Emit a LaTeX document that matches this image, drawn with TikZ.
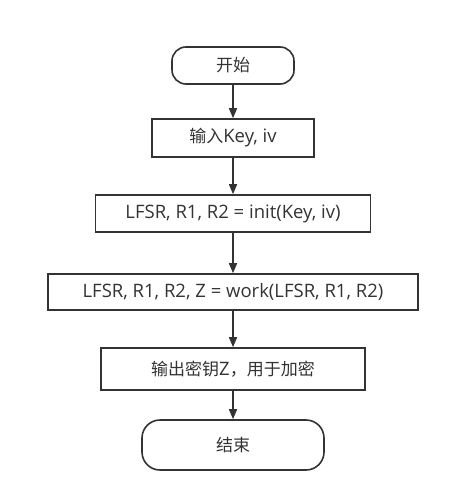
\documentclass[tikz,border=0pt]{standalone}
\usepackage{fontspec}
\setmainfont{Open Sans}
\newfontfamily\cjkf{Noto Sans CJK SC}
\newcommand{\cjk}{\fontsize{17}{20}\cjkf}
\usetikzlibrary{arrows.meta}
\definecolor{ln}{HTML}{333333}
\begin{document}
\begin{tikzpicture}[x=1pt,y=-1pt,
  box/.style={draw=ln,line width=1.6pt,rectangle,inner sep=0pt,font=\fontsize{18.5}{22}\selectfont,text=ln},
  term/.style={box,rounded corners=14pt},
  conn/.style={draw=ln,line width=1.6pt,-{Triangle[length=10pt,width=8pt]}}]
\path[use as bounding box,fill=white] (0,0) rectangle (449,502);
\node[term,minimum width=122pt,minimum height=37pt] (s) at (233,65.5) {\cjk 开始};
\node[box,minimum width=162pt,minimum height=38pt] (a) at (233,138) {{\cjk 输入}Key, iv};
\node[box,minimum width=275pt,minimum height=37pt] (b) at (233,213.5) {LFSR, R1, R2 = init(Key, iv)};
\node[box,minimum width=370pt,minimum height=36pt] (c) at (233,292) {LFSR, R1, R2, Z = work(LFSR, R1, R2)};
\node[box,minimum width=264pt,minimum height=42pt] (d) at (233,369) {{\cjk 输出密钥}Z{\cjk ，用于加密}};
\node[term,minimum width=182pt,minimum height=50pt,rounded corners=18pt] (e) at (233,445) {\cjk 结束};
\draw[conn] (s) -- (a);
\draw[conn] (a) -- (b);
\draw[conn] (b) -- (c);
\draw[conn] (c) -- (d);
\draw[conn] (d) -- (e);
\end{tikzpicture}
\end{document}
